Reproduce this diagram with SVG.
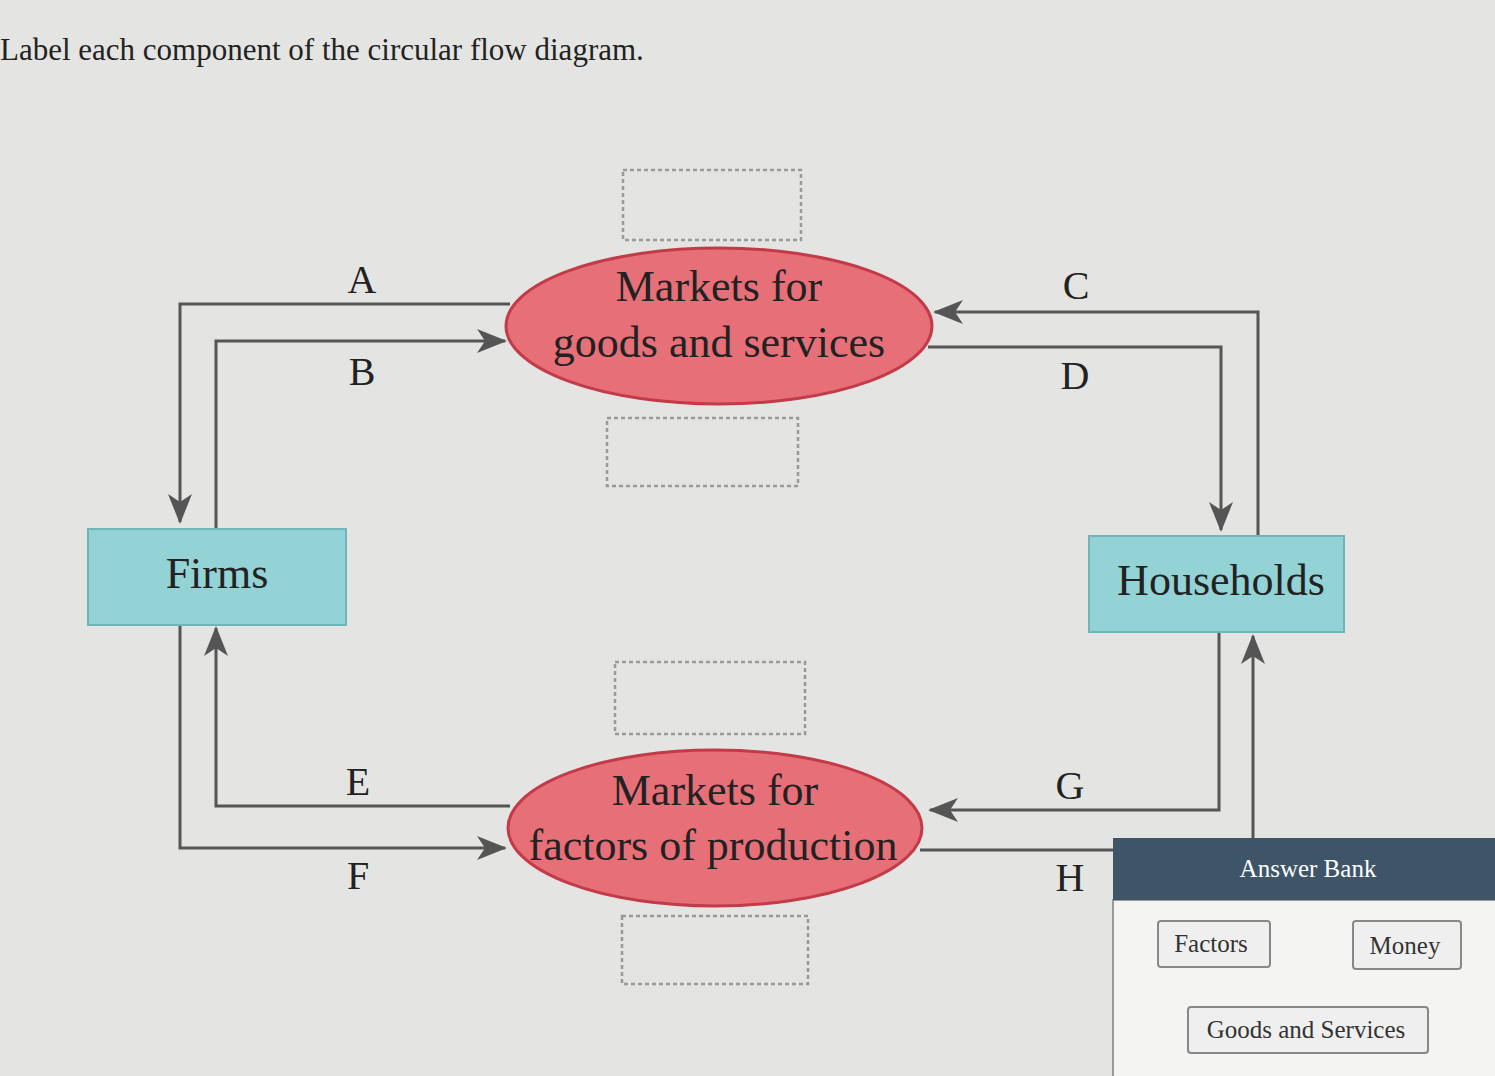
<svg xmlns="http://www.w3.org/2000/svg" width="1495" height="1076" viewBox="0 0 1495 1076">
<style>
text{font-family:"Liberation Serif","Times New Roman",serif;fill:#222}
.lbl{font-size:40px;text-anchor:middle}
.big{font-size:44px;text-anchor:middle}
.ln{fill:none;stroke:#555;stroke-width:3}
.dash{fill:none;stroke:#999;stroke-width:2.5;stroke-dasharray:4 3}
.ell{fill:#e66f78;stroke:#c33a48;stroke-width:3}
.box{fill:#93d3d6;stroke:#6fb6bb;stroke-width:2}
.btn{fill:#efefef;stroke:#888;stroke-width:2}
.bt{font-size:25px;text-anchor:middle;fill:#333}
</style>
<defs><marker id="ar" viewBox="0 0 30 24" refX="28" refY="12" markerWidth="30" markerHeight="24" markerUnits="userSpaceOnUse" orient="auto"><path d="M0,0 L30,12 L0,24 L8,12 Z" fill="#555"/></marker></defs>
<rect width="1495" height="1076" fill="#e4e5e3"/>
<text x="0" y="60" font-size="31">Label each component of the circular flow diagram.</text>
<g id="connectors">
<path class="ln" d="M510,304 H180 V522" marker-end="url(#ar)"/>
<path class="ln" d="M216,528 V341 H505" marker-end="url(#ar)"/>
<path class="ln" d="M1258,536 V312 H935" marker-end="url(#ar)"/>
<path class="ln" d="M928,347 H1221 V530" marker-end="url(#ar)"/>
<path class="ln" d="M1219,632 V810 H930" marker-end="url(#ar)"/>
<path class="ln" d="M920,850 H1253"/>
<path class="ln" d="M1253,840 V636" marker-end="url(#ar)"/>
<path class="ln" d="M510,806 H216 V628" marker-end="url(#ar)"/>
<path class="ln" d="M180,625 V848 H505" marker-end="url(#ar)"/>
</g>
<g id="blanks">
<rect class="dash" x="623" y="170" width="178" height="70"/>
<rect class="dash" x="607" y="418" width="191" height="68"/>
<rect class="dash" x="615" y="662" width="190" height="72"/>
<rect class="dash" x="622" y="916" width="186" height="68"/>
</g>
<g id="goods"><ellipse class="ell" cx="719" cy="326" rx="213" ry="78"/>
<text class="big" x="719" y="301">Markets for</text><text class="big" x="719" y="357">goods and services</text></g>
<g id="factors"><ellipse class="ell" cx="715" cy="828" rx="207" ry="78"/>
<text class="big" x="715" y="805">Markets for</text><text class="big" x="713" y="860">factors of production</text></g>
<g id="firms"><rect class="box" x="88" y="529" width="258" height="96"/><text class="big" x="217" y="588">Firms</text></g>
<g id="households"><rect class="box" x="1089" y="536" width="255" height="96"/><text class="big" x="1221" y="595">Households</text></g>
<g id="labels">
<text class="lbl" x="362" y="293">A</text><text class="lbl" x="362" y="385">B</text>
<text class="lbl" x="1076" y="299">C</text><text class="lbl" x="1075" y="389">D</text>
<text class="lbl" x="358" y="795">E</text><text class="lbl" x="358" y="889">F</text>
<text class="lbl" x="1070" y="799">G</text><text class="lbl" x="1070" y="891">H</text>
</g>
<g id="answerbank">
<rect x="1113" y="900" width="384" height="178" fill="#f4f4f3" stroke="#999" stroke-width="2"/>
<rect x="1113" y="838" width="384" height="62" fill="#3e5569"/>
<text x="1308" y="877" font-size="25" text-anchor="middle" style="fill:#fff">Answer Bank</text>
<rect class="btn" x="1158" y="921" width="112" height="46" rx="3"/><text class="bt" x="1211" y="952">Factors</text>
<rect class="btn" x="1353" y="921" width="108" height="48" rx="3"/><text class="bt" x="1405" y="954">Money</text>
<rect class="btn" x="1188" y="1007" width="240" height="46" rx="3"/><text class="bt" x="1306" y="1038">Goods and Services</text>
</g>
</svg>
